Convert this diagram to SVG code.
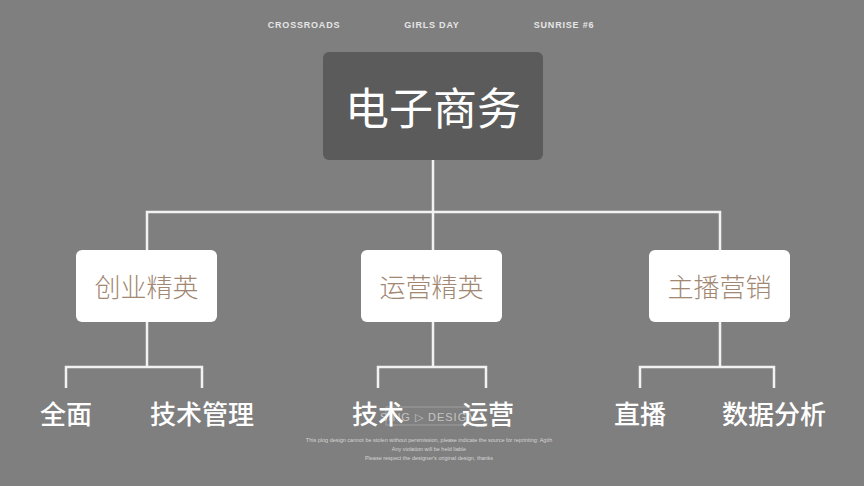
<svg xmlns="http://www.w3.org/2000/svg" width="864" height="486" viewBox="0 0 864 486">
<style>
.top{font-family:"Liberation Sans",Arial,sans-serif;font-size:9px;font-weight:bold;fill:#e6e6e6;letter-spacing:0.8px;text-anchor:middle}
.mid{fill:#ffffff;stroke:none}
.midt{font-family:"Noto Sans CJK SC",sans-serif;font-size:26px;font-weight:300;fill:#a28772;text-anchor:middle}
.leaf{font-family:"Noto Sans CJK SC",sans-serif;font-size:26px;font-weight:500;fill:#ffffff;text-anchor:middle}
.foot{font-family:"Liberation Sans",Arial,sans-serif;font-size:5.5px;fill:#d4d4d4;text-anchor:middle}
.conn{stroke:#f2f2f2;stroke-width:2.5;fill:none}
</style>
<rect width="864" height="486" fill="#7f7f7f"/>
<g id="header">
<text class="top" x="304" y="28">CROSSROADS</text>
<text class="top" x="432" y="28">GIRLS DAY</text>
<text class="top" x="564" y="28">SUNRISE #6</text>
</g>
<g id="connectors">
<path class="conn" d="M433 160V212M147 250V212H720V250M433 212V250"/>
<path class="conn" d="M147 322V367M66 388V367H202V388"/>
<path class="conn" d="M433 322V367M378 388V367H486V388"/>
<path class="conn" d="M720 322V367M640 388V367H774V388"/>
</g>
<g id="root">
<rect x="323" y="52" width="220" height="108" rx="6" fill="#5b5b5b"/>
<text x="433" y="125" font-family="Noto Sans CJK SC,sans-serif" font-size="44" fill="#ffffff" text-anchor="middle">电子商务</text>
</g>
<g id="n-cyjy">
<rect class="mid" x="76" y="250" width="141" height="72" rx="6"/>
<text class="midt" x="146.5" y="297">创业精英</text>
</g>
<g id="n-yyjy">
<rect class="mid" x="361" y="250" width="141" height="72" rx="6"/>
<text class="midt" x="431.5" y="297">运营精英</text>
</g>
<g id="n-zbyx">
<rect class="mid" x="649" y="250" width="141" height="72" rx="6"/>
<text class="midt" x="719.5" y="297">主播营销</text>
</g>
<g id="l-qm"><text class="leaf" x="66" y="424">全面</text></g>
<g id="l-jsgl"><text class="leaf" x="202" y="424">技术管理</text></g>
<g id="watermark">
<rect x="386" y="407" width="84" height="18" fill="none" stroke="#a8a8a8" stroke-width="0.8"/>
<text x="380" y="421" font-family="Liberation Sans,Arial,sans-serif" font-size="11" fill="#c4c4c4" letter-spacing="1">SING ▷ DESIGN</text>
</g>
<g id="l-js"><text class="leaf" x="378" y="424">技术</text></g>
<g id="l-yy"><text class="leaf" x="488" y="424">运营</text></g>
<g id="l-zb"><text class="leaf" x="640" y="424">直播</text></g>
<g id="l-sjfx"><text class="leaf" x="774" y="424">数据分析</text></g>
<g id="footer">
<text class="foot" x="429" y="442">This plog design cannot be stolen without persmission, please indicate the source for reprinting: Agith</text>
<text class="foot" x="429" y="451">Any violation will be held liable</text>
<text class="foot" x="429" y="460">Please respect the designer's original design, thanks</text>
</g>
</svg>
